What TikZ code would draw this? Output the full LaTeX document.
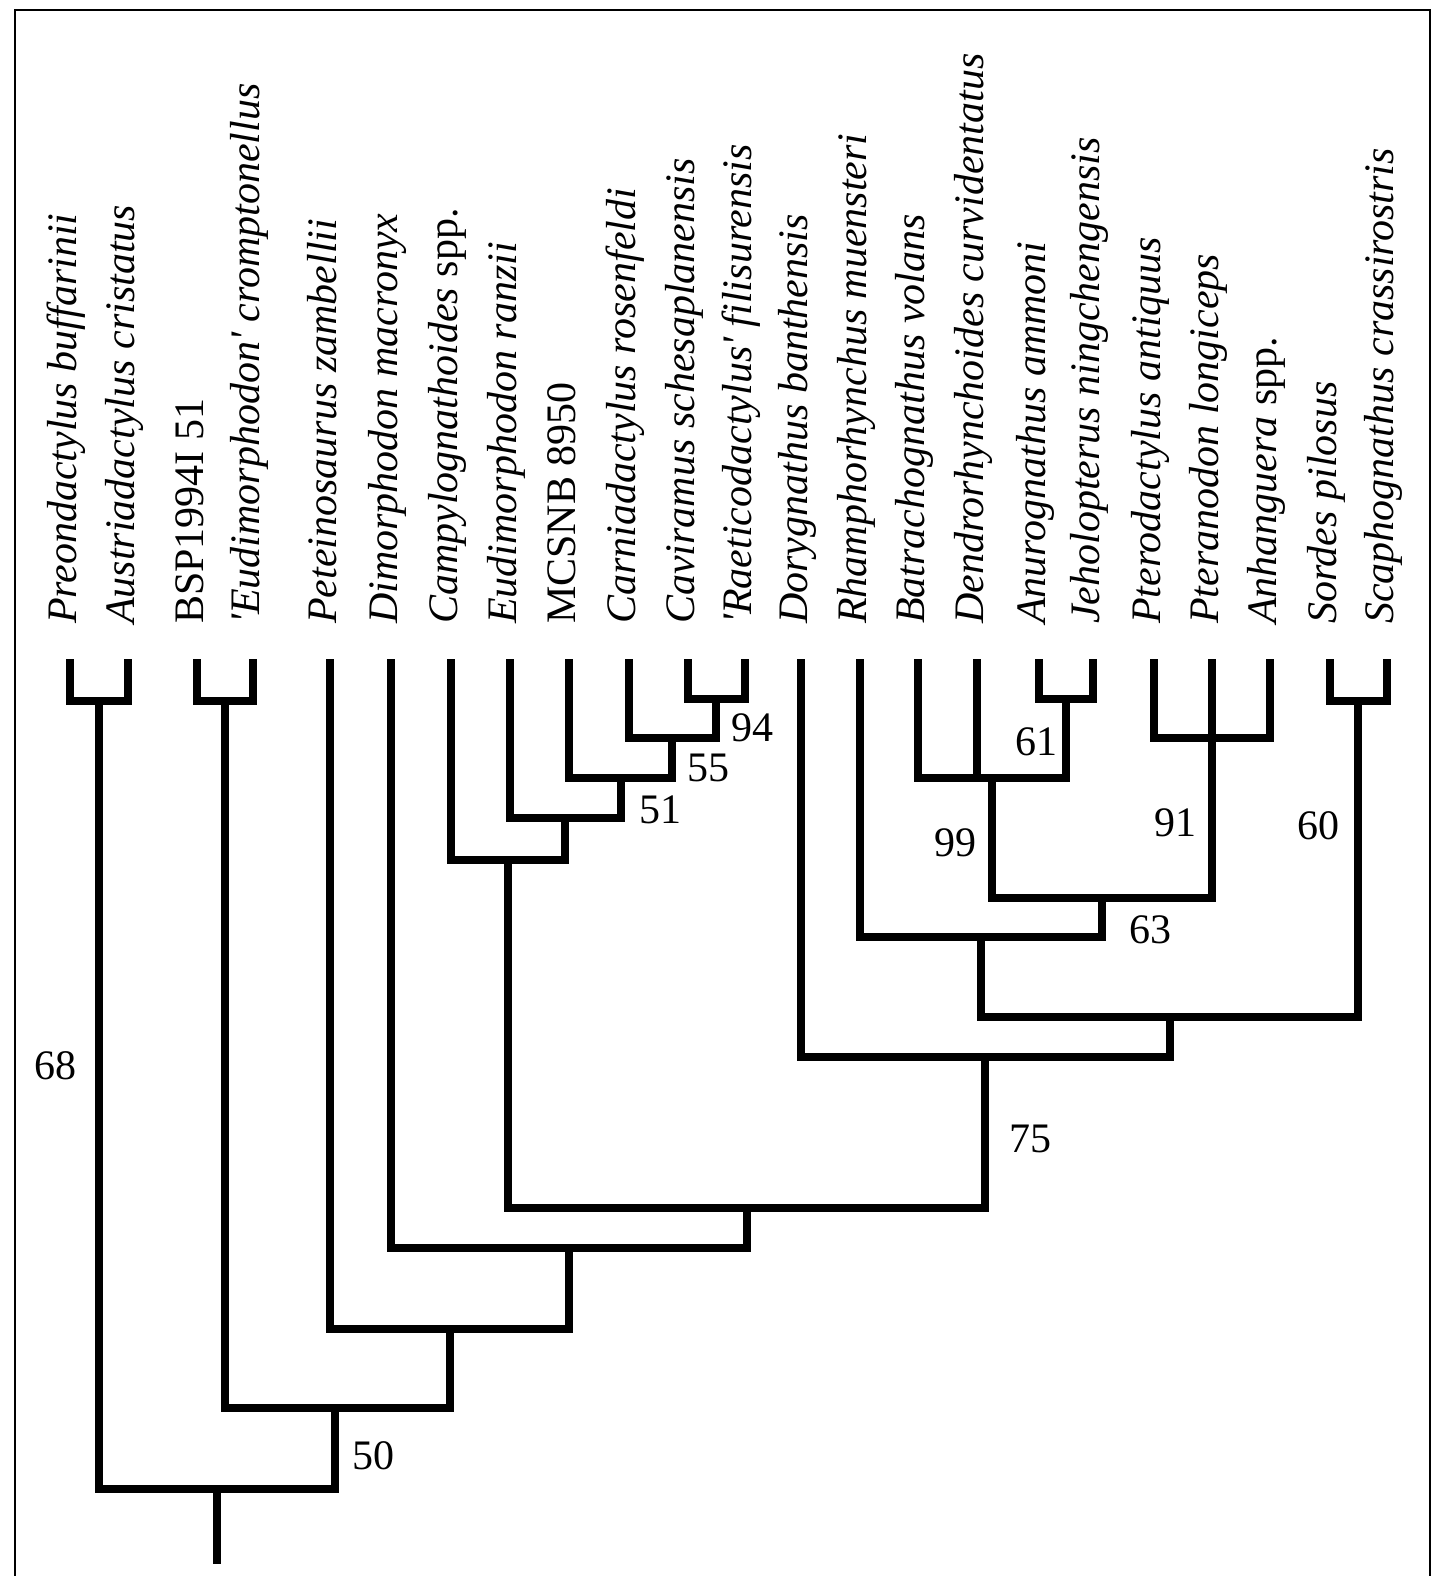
\documentclass[tikz,border=0pt]{standalone}
\usepackage{fontspec}
\setmainfont{Liberation Serif}
\usetikzlibrary{positioning}

\begin{document}
\begin{tikzpicture}[
    x=1pt, y=-1pt,
    branch/.style={line width=8pt, line join=miter},
    taxon/.style={rotate=90, anchor=base west, inner sep=0pt, font=\fontsize{42}{48}\selectfont\itshape},
    support/.style={font=\fontsize{42}{48}\selectfont, inner sep=0pt}
]
\useasboundingbox (0,0) rectangle (1443,1576);

% Frame
\draw[line width=2pt] (15,1576) -- (15,10) -- (1430,10) -- (1430,1576);

% Terminal taxa
\foreach \x/\n/\t in {
    70/pre/{Preondactylus buffarinii},
    128/aus/{Austriadactylus cristatus},
    197/bsp/{\upshape BSP1994I 51},
    253/cro/{\textquotesingle Eudimorphodon\textquotesingle\ cromptonellus},
    330/pet/{Peteinosaurus zambellii},
    391/dim/{Dimorphodon macronyx},
    451/cam/{Campylognathoides \upshape spp.},
    510/eud/{Eudimorphodon ranzii},
    569/mcs/{\upshape MCSNB 8950},
    629/car/{Carniadactylus rosenfeldi},
    688/cav/{Caviramus schesaplanensis},
    745/rae/{\textquotesingle Raeticodactylus\textquotesingle\ filisurensis},
    801/dor/{Dorygnathus banthensis},
    860/rha/{Rhamphorhynchus muensteri},
    918/bat/{Batrachognathus volans},
    977/den/{Dendrorhynchoides curvidentatus},
    1039/anu/{Anurognathus ammoni},
    1093/jeh/{Jeholopterus ningchengensis},
    1154/pter/{Pterodactylus antiquus},
    1212/pta/{Pteranodon longiceps},
    1270/anh/{Anhanguera \upshape spp.},
    1330/sor/{Sordes pilosus},
    1387/sca/{Scaphognathus crassirostris}} {
    \coordinate (\n) at (\x,659);
    \node[taxon] (\n-name) at (\x+6,624) {\t};
}

% Clades
\coordinate (preaus) at (99,701);
\coordinate (bspcro) at (225,701);
\coordinate (cavrae) at (716,699);
\coordinate (car94) at (672,738);
\coordinate (mcs55) at (621,778);
\coordinate (eud51) at (565,818);
\coordinate (camcl) at (508,860);
\coordinate (anujeh) at (1066,699);
\coordinate (batcl) at (992,778);
\coordinate (ptecl) at (1212,738);
\coordinate (ptero) at (1102,898);
\coordinate (rhacl) at (981,937);
\coordinate (sorsca) at (1358,701);
\coordinate (sorcl) at (1170,1017);
\coordinate (dorcl) at (985,1057);
\coordinate (cl75) at (747,1208);
\coordinate (dimcl) at (569,1248);
\coordinate (petcl) at (450,1329);
\coordinate (cl50) at (335,1408);
\coordinate (root) at (217,1489);
\coordinate (base) at (217,1564);

% Branches
\draw[branch] (pre) |- (preaus) -| (aus);
\draw[branch] (bsp) |- (bspcro) -| (cro);
\draw[branch] (cav) |- (cavrae) -| (rae);
\draw[branch] (car) |- (car94) -| (cavrae);
\draw[branch] (mcs) |- (mcs55) -| (car94);
\draw[branch] (eud) |- (eud51) -| (mcs55);
\draw[branch] (cam) |- (camcl) -| (eud51);
\draw[branch] (anu) |- (anujeh) -| (jeh);
\draw[branch] (bat) |- (batcl) -| (anujeh);
\draw[branch] (den) -- (den |- batcl);
\draw[branch] (pter) |- (ptecl) -| (anh);
\draw[branch] (pta) -- (ptecl);
\draw[branch] (batcl) |- (ptero) -| (ptecl);
\draw[branch] (rha) |- (rhacl) -| (ptero);
\draw[branch] (sor) |- (sorsca) -| (sca);
\draw[branch] (rhacl) |- (sorcl) -| (sorsca);
\draw[branch] (dor) |- (dorcl) -| (sorcl);
\draw[branch] (camcl) |- (cl75) -| (dorcl);
\draw[branch] (dim) |- (dimcl) -| (cl75);
\draw[branch] (pet) |- (petcl) -| (dimcl);
\draw[branch] (bspcro) |- (cl50) -| (petcl);
\draw[branch] (preaus) |- (root) -| (cl50);
\draw[branch] (root) -- (base);

% Support values
\node[support] (s94) at (752,728) {94};
\node[support] (s55) at (708,768) {55};
\node[support] (s51) at (660,810) {51};
\node[support] (s61) at (1036,742) {61};
\node[support] (s99) at (955,843) {99};
\node[support] (s91) at (1175,823) {91};
\node[support] (s60) at (1318,826) {60};
\node[support] (s63) at (1150,930) {63};
\node[support] (s75) at (1030,1139) {75};
\node[support] (s68) at (55,1066) {68};
\node[support] (s50) at (373,1456) {50};

\end{tikzpicture}
\end{document}
